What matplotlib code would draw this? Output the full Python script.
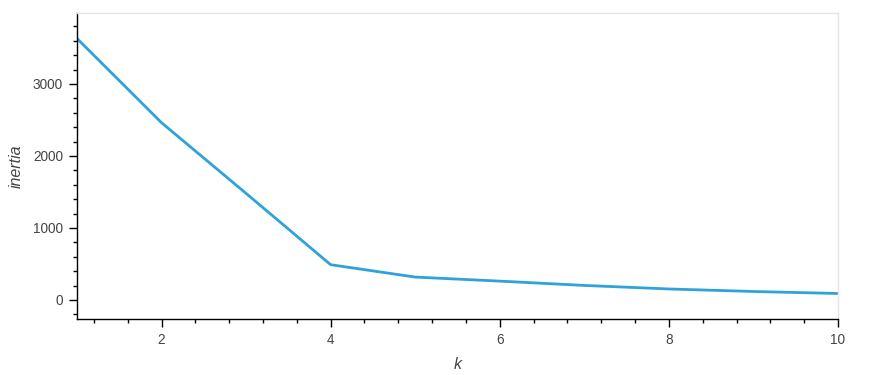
import matplotlib
matplotlib.use("Agg")
import matplotlib.pyplot as plt
from matplotlib.ticker import MultipleLocator

k_values = [1, 2, 3, 4, 5, 6, 7, 8, 9, 10]
inertia = [3632, 2462, 1480, 490, 318, 262, 202, 153, 118, 90]

plt.rcParams['font.family'] = ['Liberation Sans', 'DejaVu Sans']

fig = plt.figure(figsize=(8.75, 3.75), dpi=100)
ax = fig.add_axes([77/875, 56/375, (838-77)/875, (319-13)/375])

ax.plot(k_values, inertia, color='#30a2da', linewidth=2, solid_joinstyle='round')

span = max(inertia) - min(inertia)
ax.set_xlim(min(k_values), max(k_values))
ax.set_ylim(min(inertia) - 0.1*span, max(inertia) + 0.1*span)

ax.xaxis.set_major_locator(MultipleLocator(2))
ax.xaxis.set_minor_locator(MultipleLocator(0.4))
ax.yaxis.set_major_locator(MultipleLocator(1000))
ax.yaxis.set_minor_locator(MultipleLocator(200))

for side in ['top', 'right']:
    ax.spines[side].set_color('#e5e5e5')
    ax.spines[side].set_linewidth(1)
for side in ['left', 'bottom']:
    ax.spines[side].set_color('black')
    ax.spines[side].set_linewidth(1)

ax.tick_params(which='major', direction='out', length=5.5, width=1, color='black',
               labelsize=9.8, labelcolor='#444444', pad=4.5)
ax.tick_params(which='minor', direction='out', length=3, width=1, color='black')

ax.set_xlabel('k', fontsize=11.5, style='italic', color='#444444', labelpad=7)
ax.set_ylabel('inertia', fontsize=11.5, style='italic', color='#444444', labelpad=7)

fig.savefig('out.png', dpi=100, facecolor='white')
